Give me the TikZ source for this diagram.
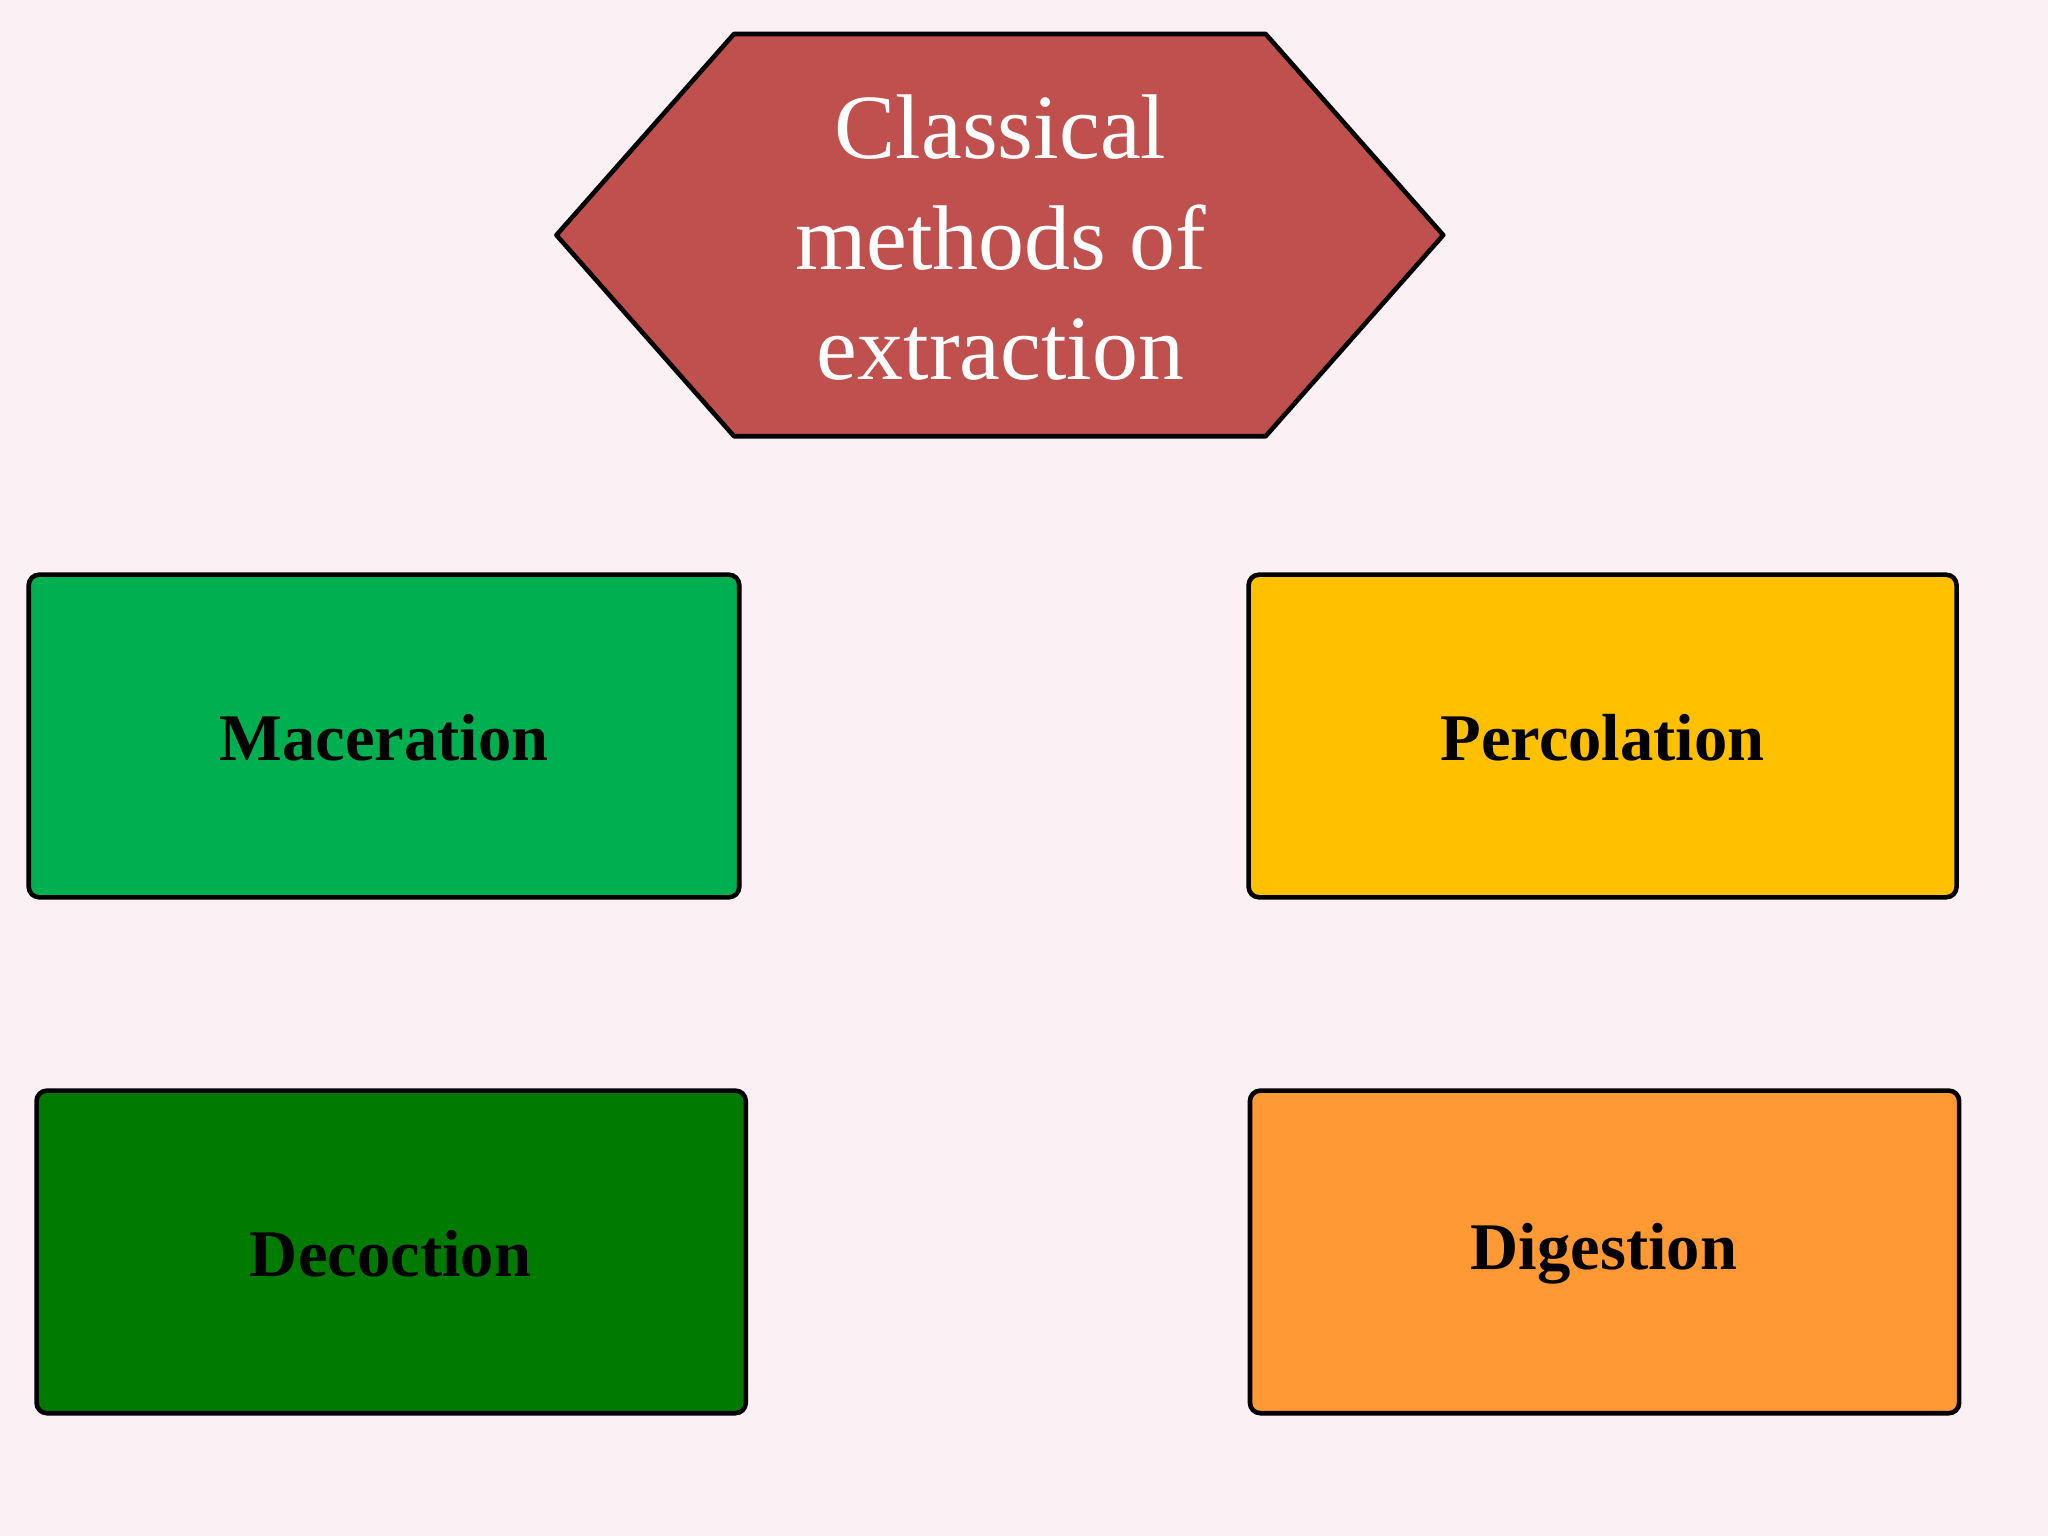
\documentclass[tikz,border=0pt]{standalone}
\usepackage{fontspec}
\setmainfont{Liberation Serif}
\definecolor{bg}{HTML}{FBF0F3}
\definecolor{hex}{HTML}{C0504D}
\definecolor{cmac}{HTML}{00B050}
\definecolor{cper}{HTML}{FFC000}
\definecolor{cdec}{HTML}{007A00}
\definecolor{cdig}{HTML}{FF9933}
\begin{document}
\begin{tikzpicture}[x=0.01cm,y=-0.01cm,
  box/.style={draw=black,line width=1pt,rounded corners=0.08cm},
  lbl/.style={font=\fontsize{14.5}{17}\selectfont\bfseries}]
\fill[bg] (0,0) rectangle (1568,1176);
\useasboundingbox (0,0) rectangle (1568,1176);
\filldraw[fill=hex,draw=black,line width=1pt,line join=round] (562,26) -- (969,26) -- (1105,180) -- (969,334) -- (562,334) -- (426,180) -- cycle;
\node[text=white,align=center,font=\fontsize{20}{24}\selectfont] (title) at (766,182) {Classical\\methods of\\extraction};
\filldraw[box,fill=cmac] (22,440) rectangle (566,687);
\node[lbl] (mac) at (294,565) {Maceration};
\filldraw[box,fill=cper] (956,440) rectangle (1498,687);
\node[lbl] (per) at (1227,565) {Percolation};
\filldraw[box,fill=cdec] (28,835) rectangle (571,1082);
\node[lbl] (dec) at (299,960) {Decoction};
\filldraw[box,fill=cdig] (957,835) rectangle (1500,1082);
\node[lbl] (dig) at (1228,960) {Digestion};
\end{tikzpicture}
\end{document}
